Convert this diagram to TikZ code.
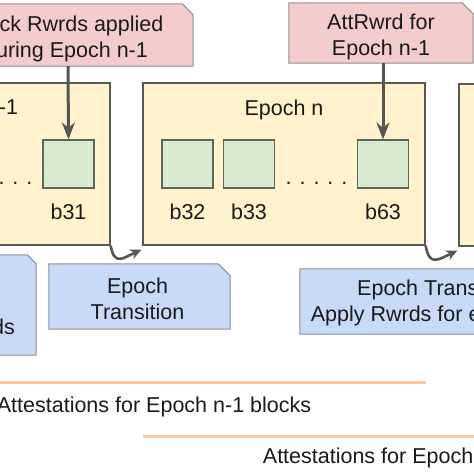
\documentclass[tikz,border=0pt]{standalone}
\usepackage{fontspec}
\setmainfont{Liberation Sans}
\usetikzlibrary{arrows.meta}
\definecolor{pinkf}{HTML}{F4CCCC}
\definecolor{pinkd}{HTML}{8E8E8E}
\definecolor{yelf}{HTML}{FFF2CC}
\definecolor{boxd}{HTML}{595959}
\definecolor{grnf}{HTML}{D9EAD3}
\definecolor{grnd}{HTML}{5E665B}
\definecolor{bluf}{HTML}{C9DAF8}
\definecolor{blud}{HTML}{8A8F99}
\definecolor{orl}{HTML}{F9CB9C}
\definecolor{arr}{HTML}{555555}
\definecolor{txt}{HTML}{1A1A1A}
\newcommand\snipbox[3]{% style, node name, snip size
  \draw[#1] (#2.south west) -- (#2.north west) -- ([xshift=-#3]#2.north east)
    -- ([yshift=-#3]#2.north east) -- (#2.south east) -- cycle;}
\begin{document}
\begin{tikzpicture}[x=1pt,y=1pt,
  every node/.style={font=\fontsize{21.5}{26.5}\selectfont, text=txt},
  frame/.style={rectangle, inner sep=0pt},
  pinkshape/.style={fill=pinkf, draw=pinkd, line width=1pt},
  blueshape/.style={fill=bluf, draw=blud, line width=1pt},
  ntext/.style={align=center, inner sep=0pt},
  epochbox/.style={rectangle, fill=yelf, draw=boxd, line width=1.3pt,
    minimum width=282pt, minimum height=162pt, inner sep=0pt},
  blk/.style={rectangle, fill=grnf, draw=grnd, line width=1.2pt,
    minimum width=51pt, minimum height=48pt, inner sep=0pt},
  lbl/.style={anchor=base, inner sep=0pt},
  attline/.style={draw=orl, line width=3pt},
  bigarrow/.style={draw=arr, line width=3pt, -{Stealth[length=17pt,width=13pt]}},
  turnarrow/.style={draw=arr, line width=2.6pt, -{Stealth[length=11pt,width=10pt]}},
]
\useasboundingbox (0,0) rectangle (474,-474);
\clip (0,0) rectangle (474,-474);

% epoch boxes
\node[epochbox] (yL) at (-31,-164) {};
\node[epochbox] (yM) at (284,-164) {};
\node[epochbox] (yR) at (600,-165) {};
\node[lbl] (tL) at (-31,-114) {Epoch n-1};
\node[lbl] (tM) at (284,-115) {Epoch n};

% blocks
\node[blk] (b31) at (68.5,-164) {};
\node[blk] (b32) at (187.5,-164) {};
\node[blk] (b33) at (249,-164) {};
\node[blk] (b63) at (383,-164) {};
\node[lbl] (l31) at (68.5,-219) {b31};
\node[lbl] (l32) at (187.5,-219) {b32};
\node[lbl] (l33) at (249,-219) {b33};
\node[lbl] (l63) at (383,-219) {b63};
\node[lbl] (dL) at (1.5,-184) {. . . . .};
\node[lbl] (dM) at (316.5,-184) {. . . . .};

% pink notes
\node[frame, minimum width=250pt, minimum height=62pt] (pL) at (68,-35) {};
\node[frame, minimum width=184pt, minimum height=60pt] (pR) at (381,-33) {};
\snipbox{pinkshape}{pL}{11pt}
\snipbox{pinkshape}{pR}{11pt}
\node[ntext] (pLt) at (66,-39) {Block Rwrds applied\\during Epoch n-1};
\node[ntext] (pRt) at (381,-37) {AttRwrd for\\Epoch n-1};

% blue notes
\node[frame, minimum width=275pt, minimum height=100pt] (nL) at (-101.5,-305) {};
\node[frame, minimum width=181pt, minimum height=65pt] (nM) at (139.5,-296.5) {};
\node[frame, minimum width=275pt, minimum height=65pt] (nR) at (437.5,-301.5) {};
\snipbox{blueshape}{nL}{9pt}
\snipbox{blueshape}{nM}{12pt}
\snipbox{blueshape}{nR}{12pt}
\node[anchor=base east, inner sep=0pt] (nLt) at (15,-334) {Rwrds};
\node[ntext] (nMt) at (137.5,-299) {Epoch\\Transition};
\node[ntext] (nRt) at (437.5,-303) {Epoch Transition\\Apply Rwrds for epoch n-1};

% arrows
\draw[bigarrow] (pL.south) -- (b31.north);
\draw[bigarrow] (b63.north |- pR.south) -- (b63.north);
\draw[turnarrow] (yL.south east) to[out=-80,in=205,looseness=1.7] ([xshift=-1pt,yshift=-4pt]yM.south west);
\draw[turnarrow] (yM.south east) to[out=-80,in=205,looseness=1.7] ([xshift=-1pt,yshift=-4pt]yR.south west);

% attestation lines
\coordinate (a1s) at (-112,-382);
\coordinate (a1e) at (426,-382);
\coordinate (a2s) at (143,-436);
\coordinate (a2e) at (681,-436);
\draw[attline] (a1s) -- (a1e);
\draw[attline] (a2s) -- (a2e);
\node[lbl] (at1) at (154,-412) {Attestations for Epoch n-1 blocks};
\node[lbl] (at2) at (410.5,-463) {Attestations for Epoch n blocks};
\end{tikzpicture}
\end{document}
